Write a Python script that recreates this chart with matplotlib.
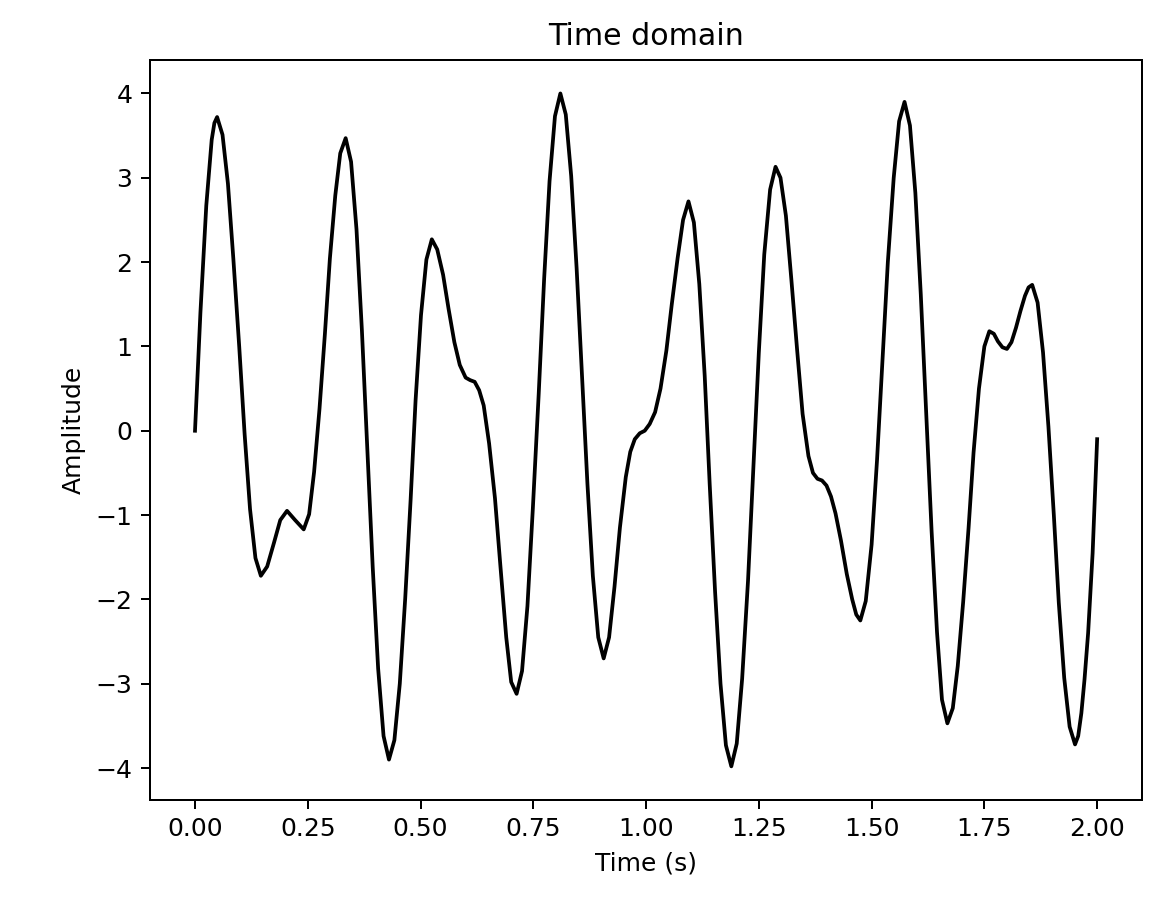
"""Time-domain signal plot."""

import matplotlib

matplotlib.use("Agg")
import matplotlib.pyplot as plt

# Readings (time in s, amplitude)
time_s = [
    0.000, 0.012, 0.025, 0.037, 0.043, 0.049, 0.061, 0.073, 0.085, 0.098,
    0.110, 0.122, 0.134, 0.146, 0.160, 0.175, 0.189, 0.204, 0.222, 0.241,
    0.253, 0.264, 0.276, 0.288, 0.299, 0.311, 0.322, 0.334, 0.346, 0.358,
    0.370, 0.382, 0.394, 0.406, 0.418, 0.430, 0.442, 0.454, 0.466, 0.478,
    0.489, 0.501, 0.513, 0.525, 0.537, 0.550, 0.562, 0.575, 0.587, 0.600,
    0.610, 0.620, 0.630, 0.640, 0.652, 0.665, 0.677, 0.690, 0.701, 0.713,
    0.725, 0.737, 0.749, 0.762, 0.774, 0.786, 0.798, 0.810, 0.822, 0.834,
    0.846, 0.858, 0.870, 0.882, 0.894, 0.906, 0.918, 0.930, 0.942, 0.955,
    0.965, 0.975, 0.986, 0.997, 1.008, 1.020, 1.032, 1.045, 1.057, 1.070,
    1.082, 1.094, 1.106, 1.118, 1.130, 1.141, 1.153, 1.165, 1.177, 1.189,
    1.201, 1.213, 1.226, 1.238, 1.250, 1.262, 1.275, 1.287, 1.298, 1.310,
    1.322, 1.335, 1.347, 1.360, 1.370, 1.380, 1.390, 1.400, 1.410, 1.420,
    1.432, 1.445, 1.457, 1.466, 1.475, 1.487, 1.500, 1.512, 1.524, 1.536,
    1.549, 1.561, 1.573, 1.585, 1.597, 1.609, 1.621, 1.633, 1.645, 1.656,
    1.668, 1.680, 1.691, 1.703, 1.715, 1.726, 1.738, 1.750, 1.761, 1.771,
    1.780, 1.790, 1.800, 1.810, 1.820, 1.830, 1.840, 1.848, 1.856, 1.868,
    1.880, 1.892, 1.904, 1.915, 1.927, 1.939, 1.951, 1.958, 1.965, 1.972,
    1.980, 1.990, 2.000,
]
amplitude = [
    0.00, 1.40, 2.67, 3.45, 3.65, 3.72, 3.51, 2.93, 2.04, 1.00,
    -0.04, -0.93, -1.51, -1.72, -1.61, -1.33, -1.06, -0.95, -1.06, -1.17,
    -0.99, -0.49, 0.26, 1.15, 2.04, 2.79, 3.29, 3.47, 3.19, 2.39,
    1.19, -0.22, -1.62, -2.82, -3.62, -3.90, -3.67, -3.00, -1.99, -0.82,
    0.36, 1.37, 2.03, 2.27, 2.15, 1.85, 1.45, 1.05, 0.78, 0.63,
    0.60, 0.58, 0.48, 0.30, -0.15, -0.80, -1.60, -2.45, -2.98, -3.12,
    -2.85, -2.08, -0.92, 0.44, 1.80, 2.96, 3.73, 4.00, 3.75, 3.02,
    1.93, 0.65, -0.63, -1.72, -2.45, -2.70, -2.45, -1.85, -1.15, -0.55,
    -0.25, -0.10, -0.03, 0.00, 0.08, 0.22, 0.50, 0.95, 1.50, 2.05,
    2.50, 2.72, 2.47, 1.74, 0.65, -0.63, -1.91, -3.00, -3.73, -3.98,
    -3.71, -2.94, -1.78, -0.43, 0.93, 2.09, 2.86, 3.13, 3.00, 2.55,
    1.80, 0.95, 0.20, -0.30, -0.50, -0.57, -0.59, -0.65, -0.78, -0.98,
    -1.30, -1.70, -2.00, -2.18, -2.25, -2.02, -1.35, -0.35, 0.83, 2.00,
    3.00, 3.67, 3.90, 3.62, 2.82, 1.62, 0.22, -1.19, -2.39, -3.19,
    -3.47, -3.29, -2.79, -2.03, -1.15, -0.26, 0.50, 1.00, 1.18, 1.15,
    1.06, 0.99, 0.97, 1.05, 1.22, 1.42, 1.60, 1.70, 1.73, 1.52,
    0.93, 0.05, -1.00, -2.04, -2.93, -3.51, -3.72, -3.62, -3.35, -2.95,
    -2.40, -1.45, -0.10,
]

fig, ax = plt.subplots(figsize=(1162 / 180, 906 / 180), dpi=180)
fig.subplots_adjust(left=0.129, right=0.983, top=0.934, bottom=0.117)

ax.plot(time_s, amplitude, color="black", linewidth=1.5)
ax.set_title("Time domain")
ax.set_xlabel("Time (s)")
ax.set_ylabel("Amplitude")

fig.savefig("out.png", dpi=180)
